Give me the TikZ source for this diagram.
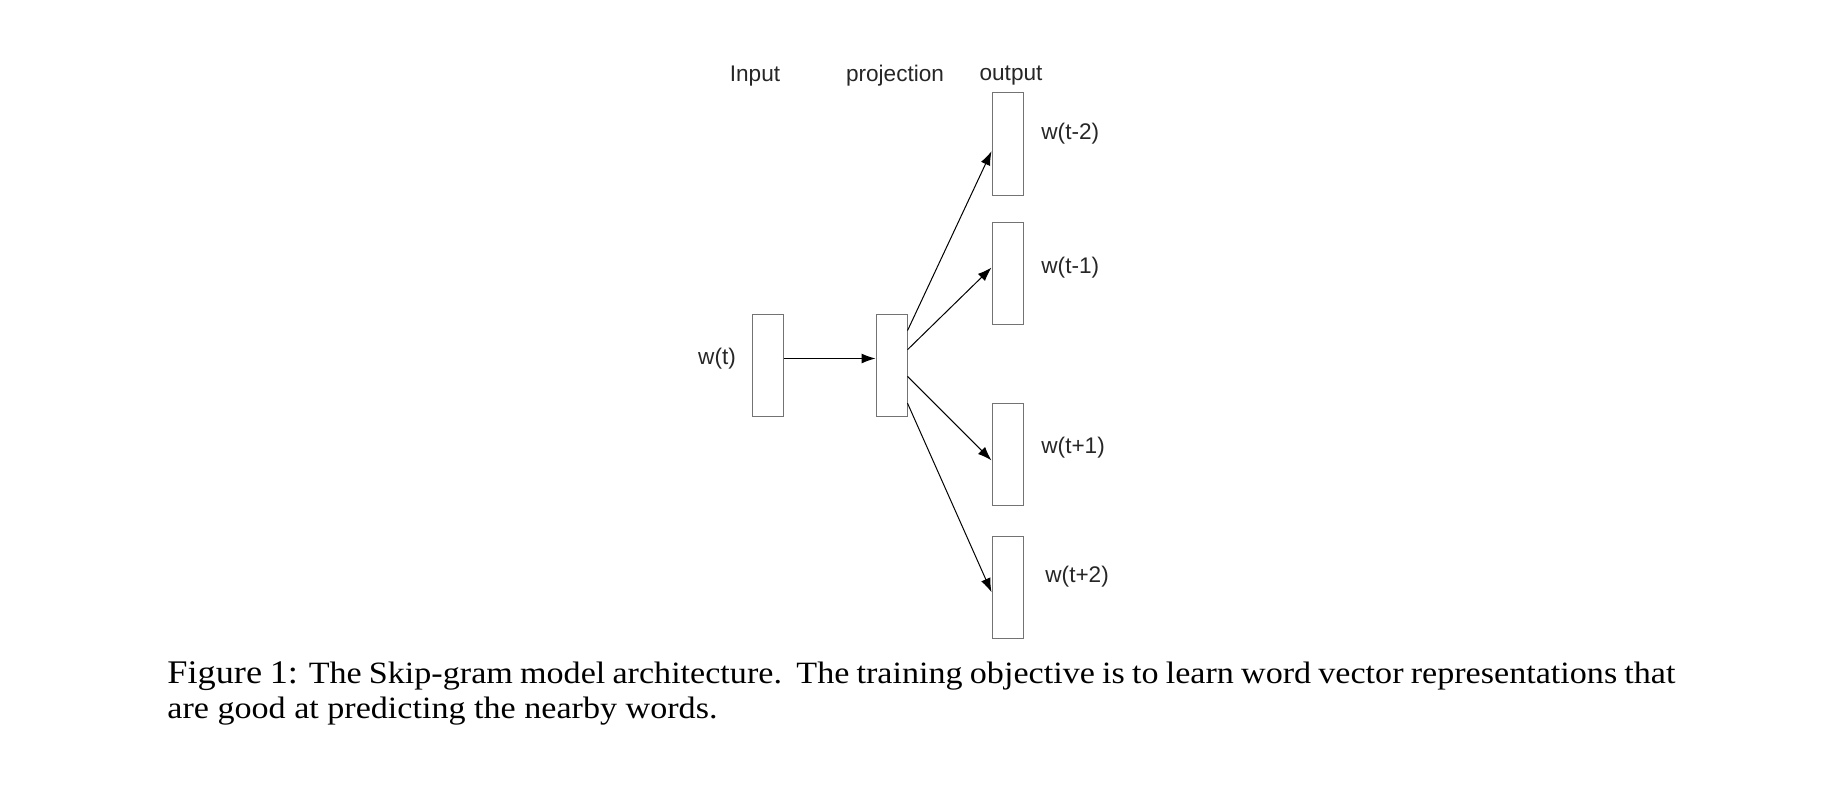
\documentclass[tikz,border=0pt]{standalone}
\usepackage{fontspec}
\setmainfont{Liberation Serif}
\newfontfamily\capf{Liberation Serif}[FakeStretch=1.1]
\newfontfamily\arialf{Liberation Sans}
\usetikzlibrary{arrows.meta}
\begin{document}
\begin{tikzpicture}[x=0.5pt,y=-0.5pt,
  box/.style={draw=black!55,line width=0.5pt,minimum width=15.5pt,minimum height=51pt,inner sep=0pt},
  lbl/.style={font=\arialf\fontsize{11.3}{13}\selectfont,text=black!85,inner sep=0pt},
  arr/.style={-{Latex[length=7pt,width=5pt]},line width=0.5pt}]
\useasboundingbox (0,0) rectangle (1834,792);
\node[box] (in) at (767.5,365.5) {};
\node[box] (pr) at (891.5,365.5) {};
\node[box] (o1) at (1007.5,144) {};
\node[box] (o2) at (1007.5,273) {};
\node[box] (o3) at (1007.5,454) {};
\node[box] (o4) at (1007.5,587) {};
\node[lbl] (tin) at (755,76) {Input};
\node[lbl] (tpr) at (895,76) {projection};
\node[lbl] (tout) at (1011,76) {output};
\node[lbl] (lw) at (717,359) {w(t)};
\node[lbl,anchor=west] (l1) at (1041,134) {w(t-2)};
\node[lbl,anchor=west] (l2) at (1041,268) {w(t-1)};
\node[lbl,anchor=west] (l3) at (1041,448) {w(t+1)};
\node[lbl,anchor=west] (l4) at (1045,577) {w(t+2)};
\draw[arr] (in.east |- 0,358.5) coordinate (a0) -- (pr.west |- a0);
\draw[arr] (pr.east |- 0,330.6) -- (o1.west |- 0,151.2);
\draw[arr] (pr.east |- 0,349.7) -- (o2.west |- 0,267.6);
\draw[arr] (pr.east |- 0,376.4) -- (o3.west |- 0,460.4);
\draw[arr] (pr.east |- 0,403.2) -- (o4.west |- 0,592.2);
\node[anchor=north west,text width=754pt,align=justify,inner sep=0pt,font=\capf\fontsize{15.5}{17.5}\selectfont] (cap) at (167,661)
{{\fontsize{16.5}{17.5}\selectfont Figure 1:} The Skip-gram model architecture.\ \ The training objective is to learn word vector representations that are good at predicting the nearby words.};
\end{tikzpicture}
\end{document}
